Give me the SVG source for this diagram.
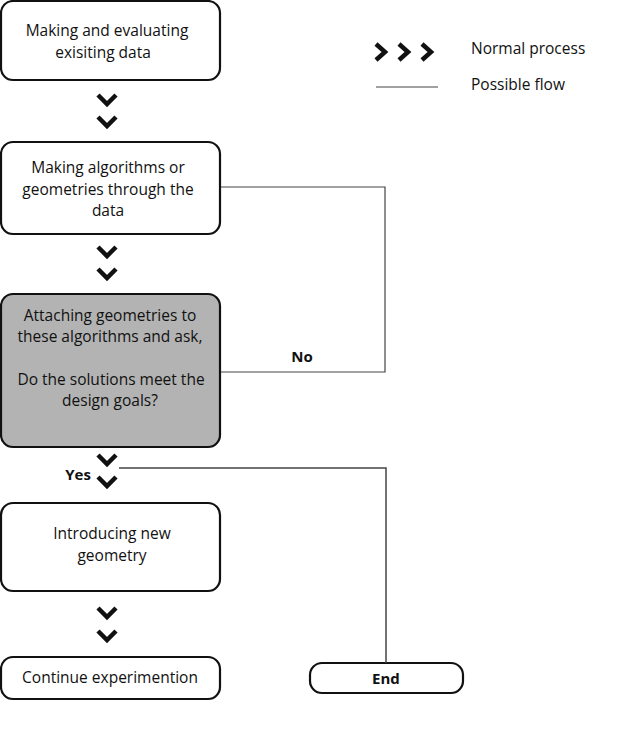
<svg xmlns="http://www.w3.org/2000/svg" width="618" height="735" viewBox="0 0 618 735">
<defs>
<style>
.box{fill:#fff;stroke:#111;stroke-width:2.2}
.t{font-family:"Open Sans","Liberation Sans",sans-serif;font-size:15.5px;fill:#111;text-anchor:middle}
.b{font-family:"Open Sans","Liberation Sans",sans-serif;font-size:15px;font-weight:bold;fill:#111}
.ln{fill:none;stroke:#444;stroke-width:1.2}
.ch{fill:none;stroke:#111;stroke-width:4.5}
</style>
<path id="cv" class="ch" d="M-9,-5 L0,4 L9,-5"/>
<path id="cr" class="ch" d="M-5,-8 L4,0 L-5,8"/>
</defs>
<rect width="618" height="735" fill="#fff"/>
<g id="n1"><rect class="box" x="1" y="1" width="219" height="79" rx="12"/><text class="t" x="107" y="36">Making and evaluating</text><text class="t" x="103" y="58">exisiting data</text></g>
<g id="n2"><rect class="box" x="1" y="142" width="219" height="92" rx="12"/><text class="t" x="108" y="173">Making algorithms or</text><text class="t" x="108" y="195">geometries through the</text><text class="t" x="108" y="216">data</text></g>
<g id="n3"><rect class="box" x="1" y="294" width="219" height="153" rx="12" fill="#b3b3b3" style="fill:#b3b3b3"/><text class="t" x="110" y="321">Attaching geometries to</text><text class="t" x="110" y="342">these algorithms and ask,</text><text class="t" x="111" y="385">Do the solutions meet the</text><text class="t" x="110" y="406">design goals?</text></g>
<g id="n4"><rect class="box" x="1" y="503" width="219" height="88" rx="12"/><text class="t" x="112" y="539">Introducing new</text><text class="t" x="112" y="561">geometry</text></g>
<g id="n5"><rect class="box" x="1" y="657" width="219" height="42" rx="12"/><text class="t" x="110" y="683">Continue experimention</text></g>
<g id="n6"><rect class="box" x="310" y="663" width="153" height="30" rx="12"/><text class="b" x="386" y="684" text-anchor="middle">End</text></g>
<g id="legend">
<use href="#cr" x="381" y="52"/><use href="#cr" x="404" y="52"/><use href="#cr" x="427" y="52"/>
<line class="ln" x1="376" y1="87" x2="438" y2="87"/>
<text class="t" x="471" y="54" style="text-anchor:start">Normal  process</text>
<text class="t" x="471" y="90" style="text-anchor:start">Possible flow</text>
</g>
<g id="connectors">
<use href="#cv" x="107" y="100"/><use href="#cv" x="107" y="122"/>
<use href="#cv" x="107" y="252"/><use href="#cv" x="107" y="274"/>
<use href="#cv" x="107" y="460"/><use href="#cv" x="107" y="482"/>
<use href="#cv" x="107" y="613"/><use href="#cv" x="107" y="636"/>
<polyline class="ln" points="221,187 385,187 385,372 221,372"/>
<polyline class="ln" points="119,468 386,468 386,663" style="stroke-width:1.5"/>
<text class="b" x="302" y="362" text-anchor="middle">No</text>
<text class="b" x="78" y="480" text-anchor="middle">Yes</text>
</g>
</svg>
